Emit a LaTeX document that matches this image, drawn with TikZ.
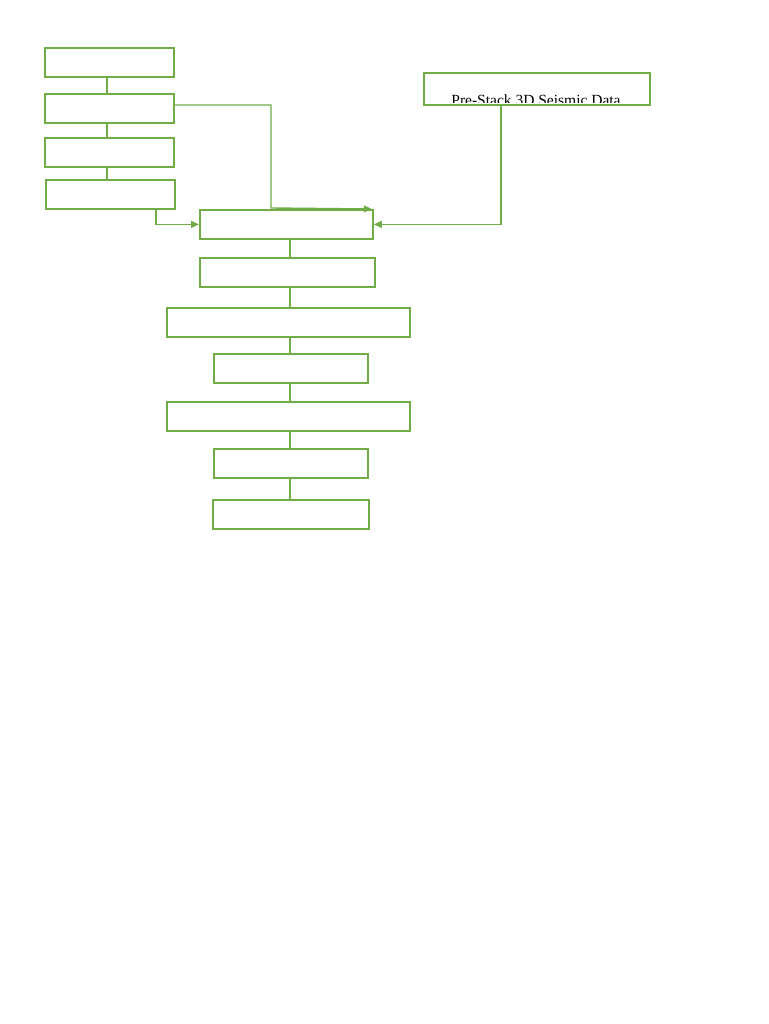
\documentclass[tikz,border=0pt]{standalone}
\usepackage{fontspec}
\setmainfont{Liberation Serif}
\usetikzlibrary{arrows.meta}
\definecolor{grn}{RGB}{112,173,71}
\begin{document}
\begin{tikzpicture}[x=1pt,y=-1pt,
  box/.style={draw=grn,line width=1.8pt,fill=white,inner sep=0pt,anchor=north west},
  con/.style={draw=grn,line width=1.4pt},
  arr/.style={con,-{Triangle[length=8pt,width=7pt]}}]
\useasboundingbox (0,0) rectangle (768,1024);
\fill[white] (0,0) rectangle (768,1024);
% left column
\node[box,minimum width=129pt,minimum height=29pt] (a) at (44,47) {};
\node[box,minimum width=129pt,minimum height=29pt] (b) at (44,93) {};
\node[box,minimum width=129pt,minimum height=29pt] (c) at (44,137) {};
\node[box,minimum width=129pt,minimum height=29pt] (d) at (45,179) {};
% right source
\node[box,minimum width=226pt,minimum height=32pt] (r) at (423,72) {};
\begin{scope}
\clip (423,72) rectangle (649,103);
\node[anchor=base,font=\fontsize{15.5}{17}\selectfont,inner sep=0pt] (rt) at (536,106) {Pre-Stack 3D Seismic Data};
\end{scope}
% center column
\node[box,minimum width=173pt,minimum height=29pt] (e) at (199,209) {};
\node[box,minimum width=175pt,minimum height=29pt] (f) at (199,257) {};
\node[box,minimum width=243pt,minimum height=29pt] (g) at (166,307) {};
\node[box,minimum width=154pt,minimum height=29pt] (h) at (213,353) {};
\node[box,minimum width=243pt,minimum height=29pt] (i) at (166,401) {};
\node[box,minimum width=154pt,minimum height=29pt] (j) at (213,448) {};
\node[box,minimum width=156pt,minimum height=29pt] (k) at (212,499) {};
% connectors
\draw[con] (a.south -| 107,0) -- (b.north -| 107,0);
\draw[con] (b.south -| 107,0) -- (c.north -| 107,0);
\draw[con] (c.south -| 107,0) -- (d.north -| 107,0);
\coordinate (bt) at (271,208);
\draw[arr] (b.east |- 0,105) -| (bt) -- ([xshift=-2pt]e.north east);
\draw[arr] ([xshift=-20pt]d.south east) |- (e.west);
\draw[arr] ([xshift=-36pt]r.south) |- (e.east);
\draw[con] (e.south -| 290,0) -- (f.north -| 290,0);
\draw[con] (f.south -| 290,0) -- (g.north -| 290,0);
\draw[con] (g.south -| 290,0) -- (h.north -| 290,0);
\draw[con] (h.south -| 290,0) -- (i.north -| 290,0);
\draw[con] (i.south -| 290,0) -- (j.north -| 290,0);
\draw[con] (j.south -| 290,0) -- (k.north -| 290,0);
\end{tikzpicture}
\end{document}
